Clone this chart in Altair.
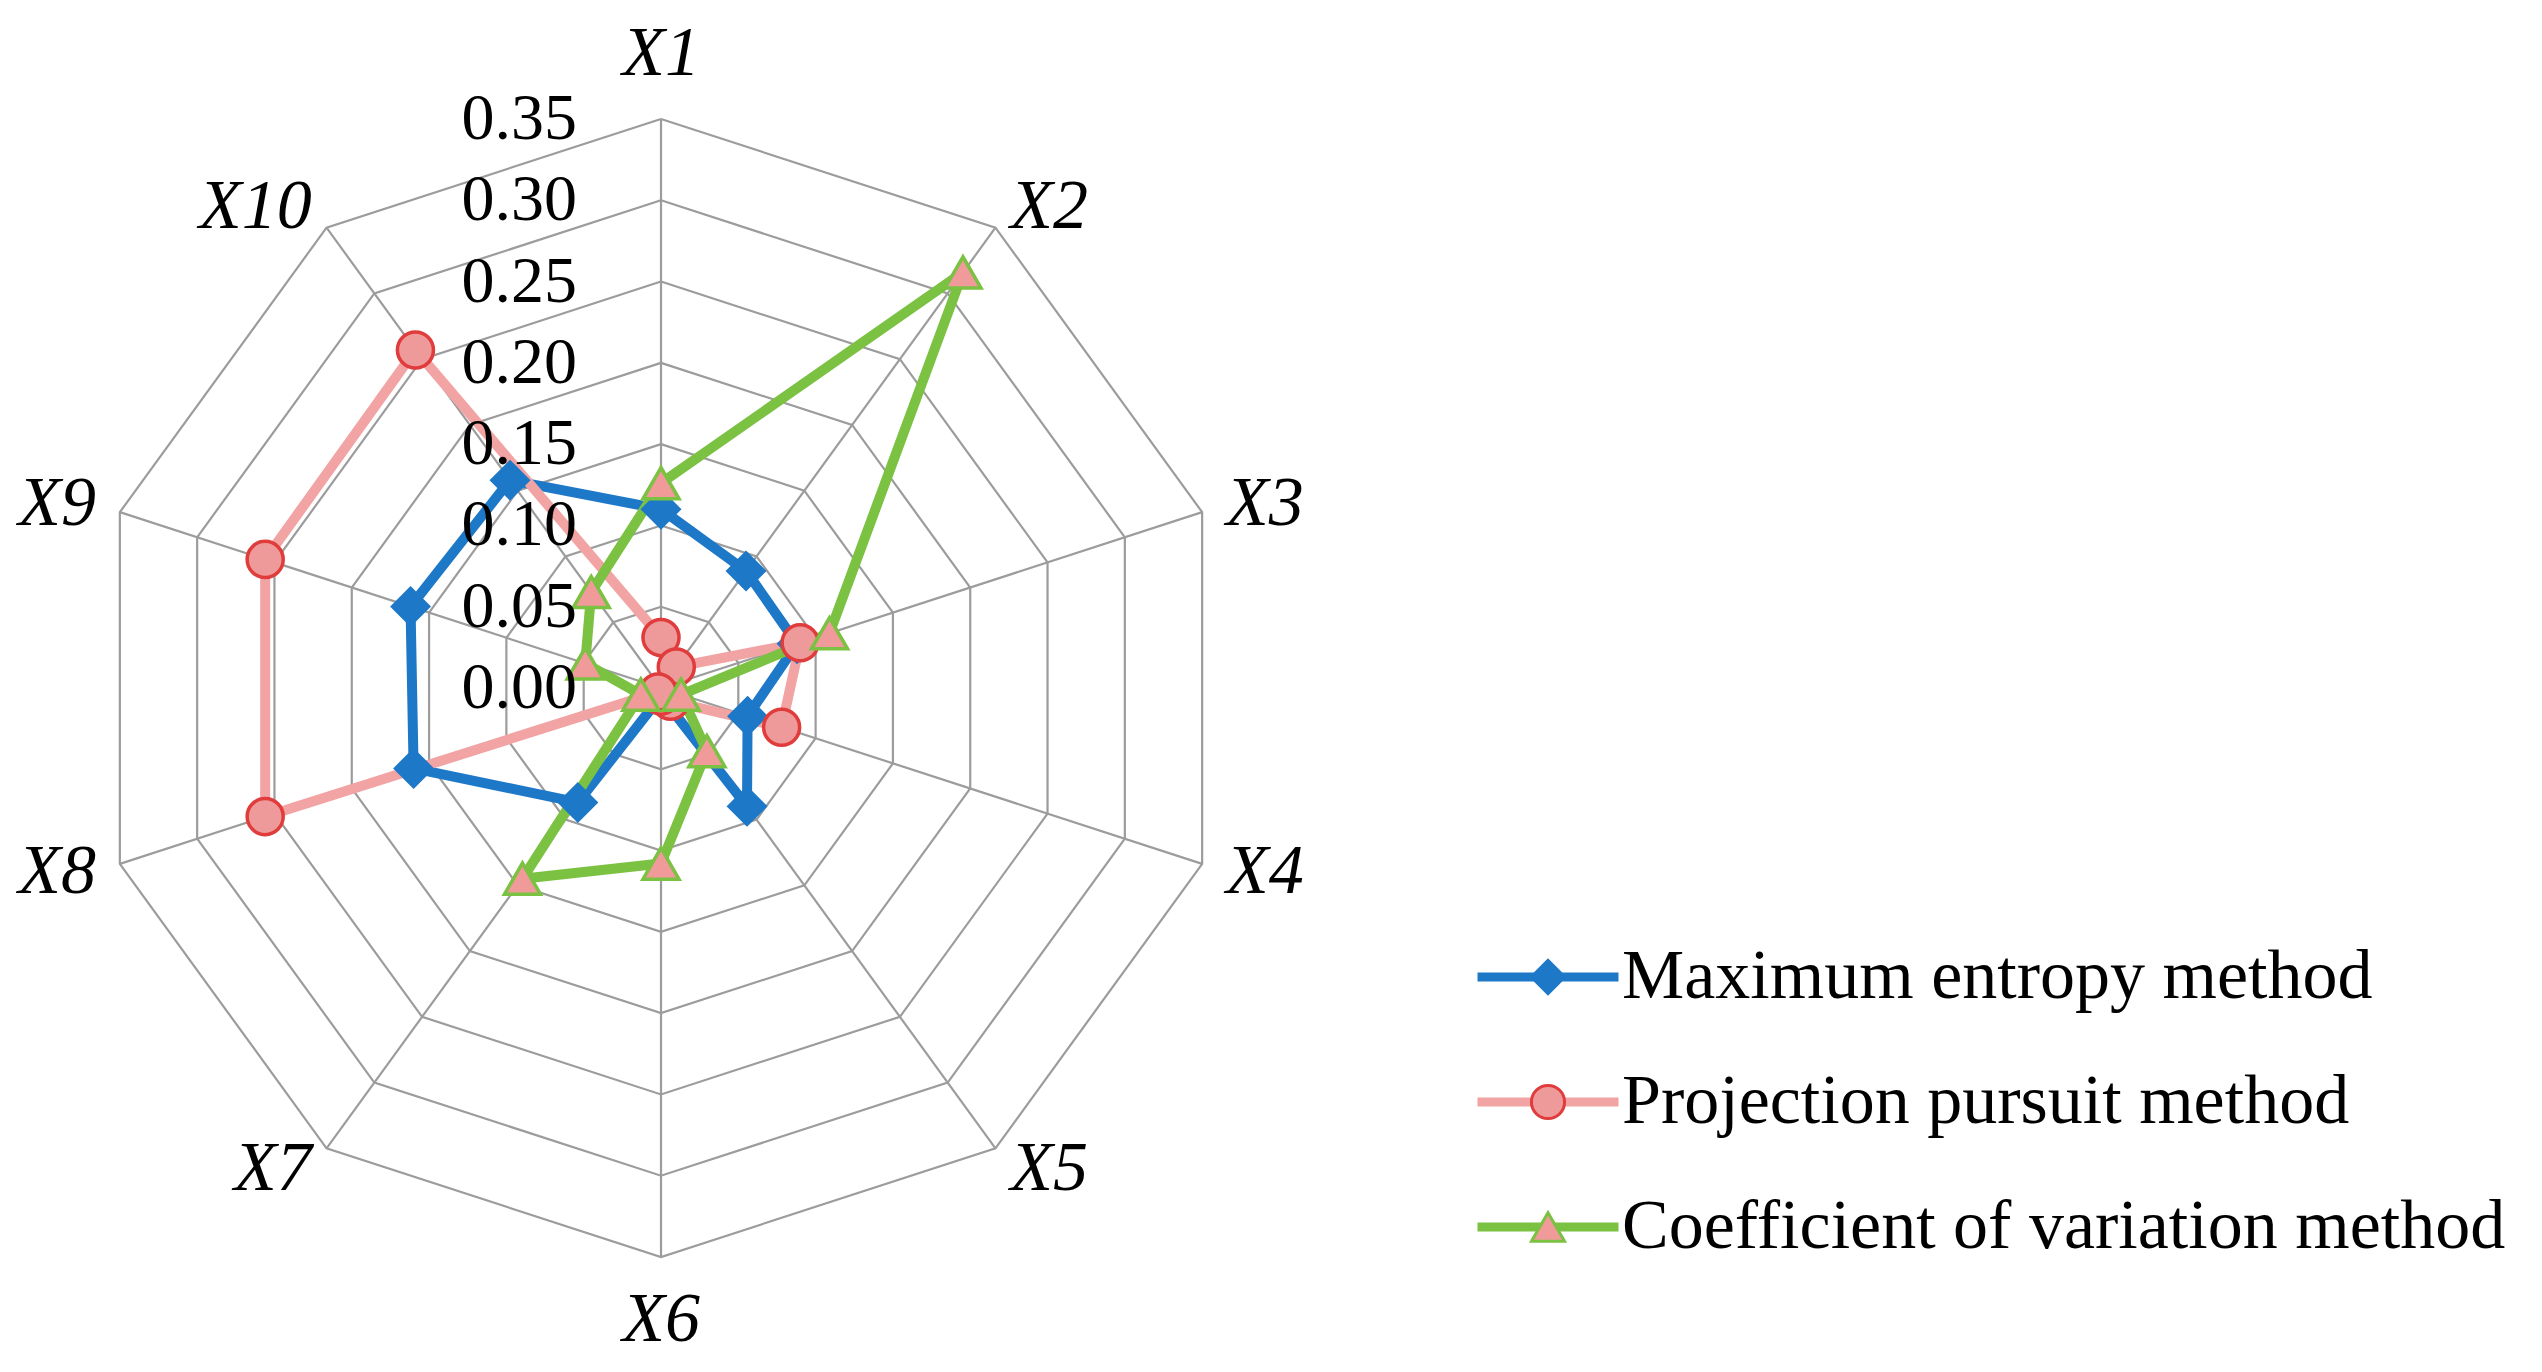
import altair as alt
import pandas as pd

# ---- data ----
categories = ["X1", "X2", "X3", "X4", "X5", "X6", "X7", "X8", "X9", "X10"]
methods = ["Maximum entropy method", "Projection pursuit method", "Coefficient of variation method"]
max_entropy = [0.110, 0.089, 0.088, 0.056, 0.090, 0.005, 0.087, 0.160, 0.162, 0.158]
projection_pursuit = [0.031, 0.016, 0.090, 0.078, 0.010, 0.005, 0.003, 0.256, 0.256, 0.257]
coef_variation = [0.126, 0.316, 0.109, 0.013, 0.048, 0.108, 0.145, 0.013, 0.049, 0.073]
tick_values = [0.00, 0.05, 0.10, 0.15, 0.20, 0.25, 0.30, 0.35]

# ---- styles ----
line_colors = ["#1E78C8", "#F2A3A3", "#7BC142"]
marker_fills = ["#1E78C8", "#EE9A9A", "#F09A9A"]
marker_strokes = ["#1E78C8", "#E03C3C", "#7BC142"]
marker_shapes = ["diamond", "circle", "triangle-up"]
FONT = "Liberation Serif"
RMAX = tick_values[-1]
W = 1138

series_values = [max_entropy, projection_pursuit, coef_variation]
n = len(categories)

rows = []
for si, (name, vals) in enumerate(zip(methods, series_values)):
    for k in range(n + 1):
        rows.append({"method": name, "sidx": si, "order": k,
                     "cat": categories[k % n], "idx": k % n, "value": vals[k % n]})
series_df = pd.DataFrame(rows)

ring_df = pd.DataFrame([{"level": lv, "k": k} for lv in tick_values[1:] for k in range(n + 1)])
cat_df = pd.DataFrame({"cat": categories, "idx": list(range(n))})
tick_df = pd.DataFrame({"tick": tick_values})

sx = alt.Scale(domain=[-RMAX, RMAX], nice=False, zero=False)
sy = alt.Scale(domain=[-RMAX, RMAX], nice=False, zero=False)

GRID = "#9C9C9C"

# grid rings
rings = alt.Chart(ring_df).transform_calculate(
    theta=f"2*PI*datum.k/{n}",
    gx="datum.level*sin(datum.theta)",
    gy="datum.level*cos(datum.theta)",
).mark_line(color=GRID, strokeWidth=2.2).encode(
    x=alt.X("gx:Q", scale=sx, axis=None),
    y=alt.Y("gy:Q", scale=sy, axis=None),
    detail="level:N",
    order="k:Q",
)

spokes = alt.Chart(cat_df).transform_calculate(
    theta=f"2*PI*datum.idx/{n}",
    zero="0",
    ex=f"{RMAX}*sin(datum.theta)",
    ey=f"{RMAX}*cos(datum.theta)",
).mark_rule(color=GRID, strokeWidth=2.2).encode(
    x=alt.X("zero:Q", scale=sx, axis=None),
    y=alt.Y("zero:Q", scale=sy, axis=None),
    x2="ex:Q",
    y2="ey:Q",
)

# radial tick labels
ticks = alt.Chart(tick_df).transform_calculate(
    zero="0",
    label="format(datum.tick, '.2f')",
).mark_text(align="right", baseline="middle", dx=-84, font=FONT, fontSize=66,
            color="black").encode(
    x=alt.X("zero:Q", scale=sx, axis=None),
    y=alt.Y("tick:Q", scale=sy, axis=None),
    text="label:N",
)

# category labels
lab_off = 25.0 / (W / (2 * RMAX))
lab_base = alt.Chart(cat_df).transform_calculate(
    theta=f"2*PI*datum.idx/{n}",
    lx=f"({RMAX}+{lab_off})*sin(datum.theta)",
    ly=f"({RMAX}+{lab_off})*cos(datum.theta)",
)
lab_enc = dict(
    x=alt.X("lx:Q", scale=sx, axis=None),
    y=alt.Y("ly:Q", scale=sy, axis=None),
    text="cat:N",
)
lab_style = dict(font=FONT, fontSize=70, fontStyle="italic", color="black")
lab_top = lab_base.transform_filter("datum.idx == 0").mark_text(
    align="center", baseline="bottom", dy=-4, **lab_style).encode(**lab_enc)
lab_bottom = lab_base.transform_filter(f"datum.idx == {n // 2}").mark_text(
    align="center", baseline="top", dy=4, **lab_style).encode(**lab_enc)
lab_right = lab_base.transform_filter(f"datum.idx > 0 && datum.idx < {n // 2}").mark_text(
    align="left", baseline="middle", **lab_style).encode(**lab_enc)
lab_left = lab_base.transform_filter(f"datum.idx > {n // 2}").mark_text(
    align="right", baseline="middle", **lab_style).encode(**lab_enc)

LEG_X = 1421
LEG_Y = 823
ROW_PAD = 55
LEG_FS = 70

series_base = alt.Chart(series_df).transform_calculate(
    theta=f"2*PI*datum.idx/{n}",
    px="datum.value*sin(datum.theta)",
    py="datum.value*cos(datum.theta)",
)

lines = series_base.mark_line(strokeWidth=10, strokeJoin="round").encode(
    x=alt.X("px:Q", scale=sx, axis=None),
    y=alt.Y("py:Q", scale=sy, axis=None),
    order="order:Q",
    color=alt.Color("method:N",
                    sort=alt.EncodingSortField(field="sidx", op="min"),
                    scale=alt.Scale(range=line_colors),
                    legend=alt.Legend(orient="none", legendX=LEG_X, legendY=LEG_Y, title=None,
                                      symbolType="M-4.7,0H4.7", symbolSize=900,
                                      symbolStrokeWidth=9, labelOffset=39, labelFont=FONT,
                                      labelFontSize=LEG_FS, labelColor="black", rowPadding=ROW_PAD,
                                      padding=0, zindex=0, labelLimit=2000)),
)

points = series_base.transform_filter(f"datum.order < {n}").mark_point(
    filled=True, size=1300, strokeWidth=3.5, opacity=1).encode(
    x=alt.X("px:Q", scale=sx, axis=None),
    y=alt.Y("py:Q", scale=sy, axis=None),
    fill=alt.Fill("method:N", scale=alt.Scale(domain=methods, range=marker_fills),
                  legend=alt.Legend(orient="none", legendX=LEG_X, legendY=LEG_Y, title=None,
                                    symbolSize=1100, symbolStrokeWidth=3, labelOffset=39,
                                    labelFont=FONT, labelFontSize=LEG_FS, labelOpacity=0,
                                    rowPadding=ROW_PAD, padding=0, zindex=1,
                                    symbolOpacity=1, labelLimit=2000)),
    stroke=alt.Stroke("method:N", scale=alt.Scale(domain=methods, range=marker_strokes)),
    shape=alt.Shape("method:N", scale=alt.Scale(domain=methods, range=marker_shapes)),
)

chart = alt.layer(
    rings, spokes, lines, points, lab_top, lab_bottom, lab_right, lab_left, ticks
).properties(
    width=W, height=W,
    padding={"left": 84, "top": 111, "right": 1304, "bottom": 105},
    autosize=alt.AutoSizeParams(type="none"),
    background="white",
).configure_view(strokeWidth=0)

chart.save("out.html", embed_options={"renderer": "svg", "actions": False})
